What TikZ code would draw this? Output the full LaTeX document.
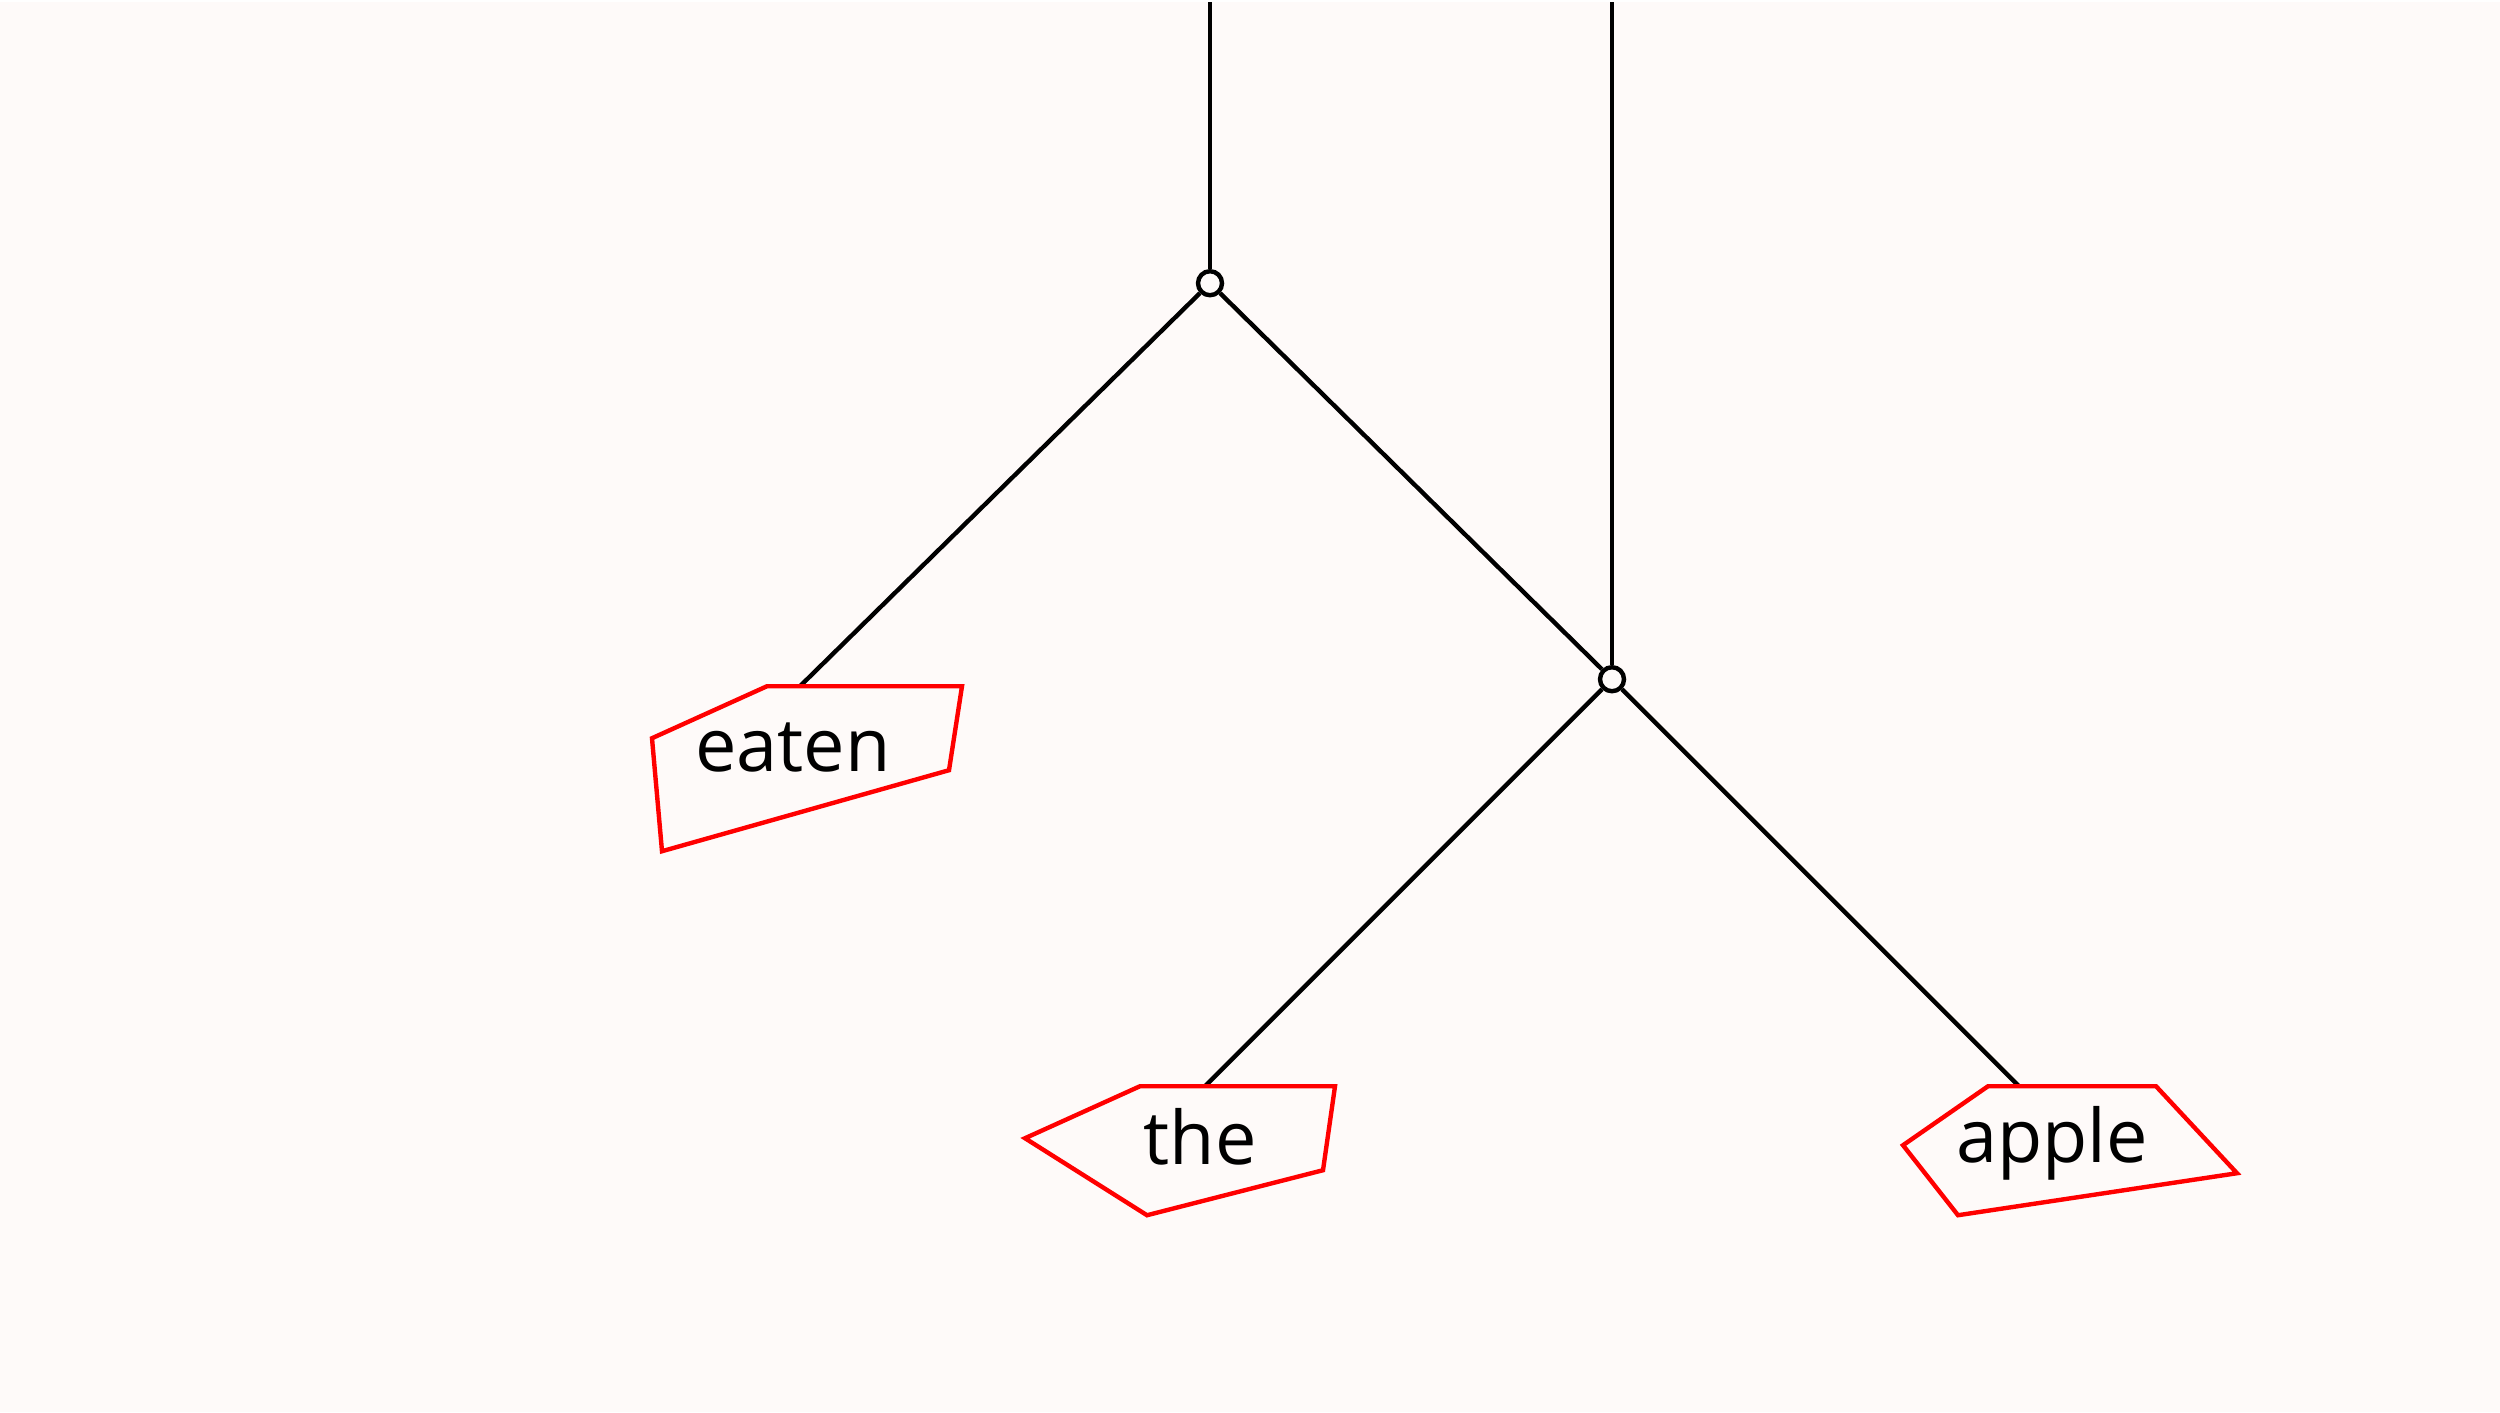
\documentclass[tikz,border=0pt]{standalone}
\usepackage{fontspec}
\setmainfont{Open Sans}
\definecolor{paper}{HTML}{FEFAF9}

\begin{document}
\begin{tikzpicture}
[x=0.01cm, y=-0.01cm, line width=1.25pt,
junction/.style={draw, circle, fill=paper, inner sep=0 pt, minimum size=0.24cm},
word/.style={anchor=base, inner sep=0 pt, font=\fontsize{21}{25}\selectfont},
tag/.style={draw=red, line join=miter}
]

\fill[paper] (0,0) rectangle (2500,1410);

\path
coordinate (top1) at (1210,0)
coordinate (top2) at (1612,0)
coordinate (eatenTop) at (800,684)
coordinate (theTop) at (1205,1084)
coordinate (appleTop) at (2019,1084)
;

\node[junction] (J1) at (1210,281) {};
\node[junction] (J2) at (1612,677) {};

% draw tree
\draw (top1) -- (J1) ;
\draw (top2) -- (J2) ;
\draw (J1) -- (eatenTop) ;
\draw (J1) -- (J2) ;
\draw (J2) -- (theTop) ;
\draw (J2) -- (appleTop) ;

% word tags
\draw[tag] (652,736) -- (767,684) -- (962,684) -- (949,768) -- (662,849) -- cycle ;
\draw[tag] (1025,1136) -- (1140,1084) -- (1335,1084) -- (1323,1168) -- (1147,1213) -- cycle ;
\draw[tag] (1903,1143) -- (1988,1084) -- (2156,1084) -- (2237,1171) -- (1958,1213) -- cycle ;

\node[word] (eaten) at (793,769) {eaten};
\node[word] (the) at (1200,1162) {the};
\node[word] (apple) at (2052,1160) {apple};

\end{tikzpicture}
\end{document}
